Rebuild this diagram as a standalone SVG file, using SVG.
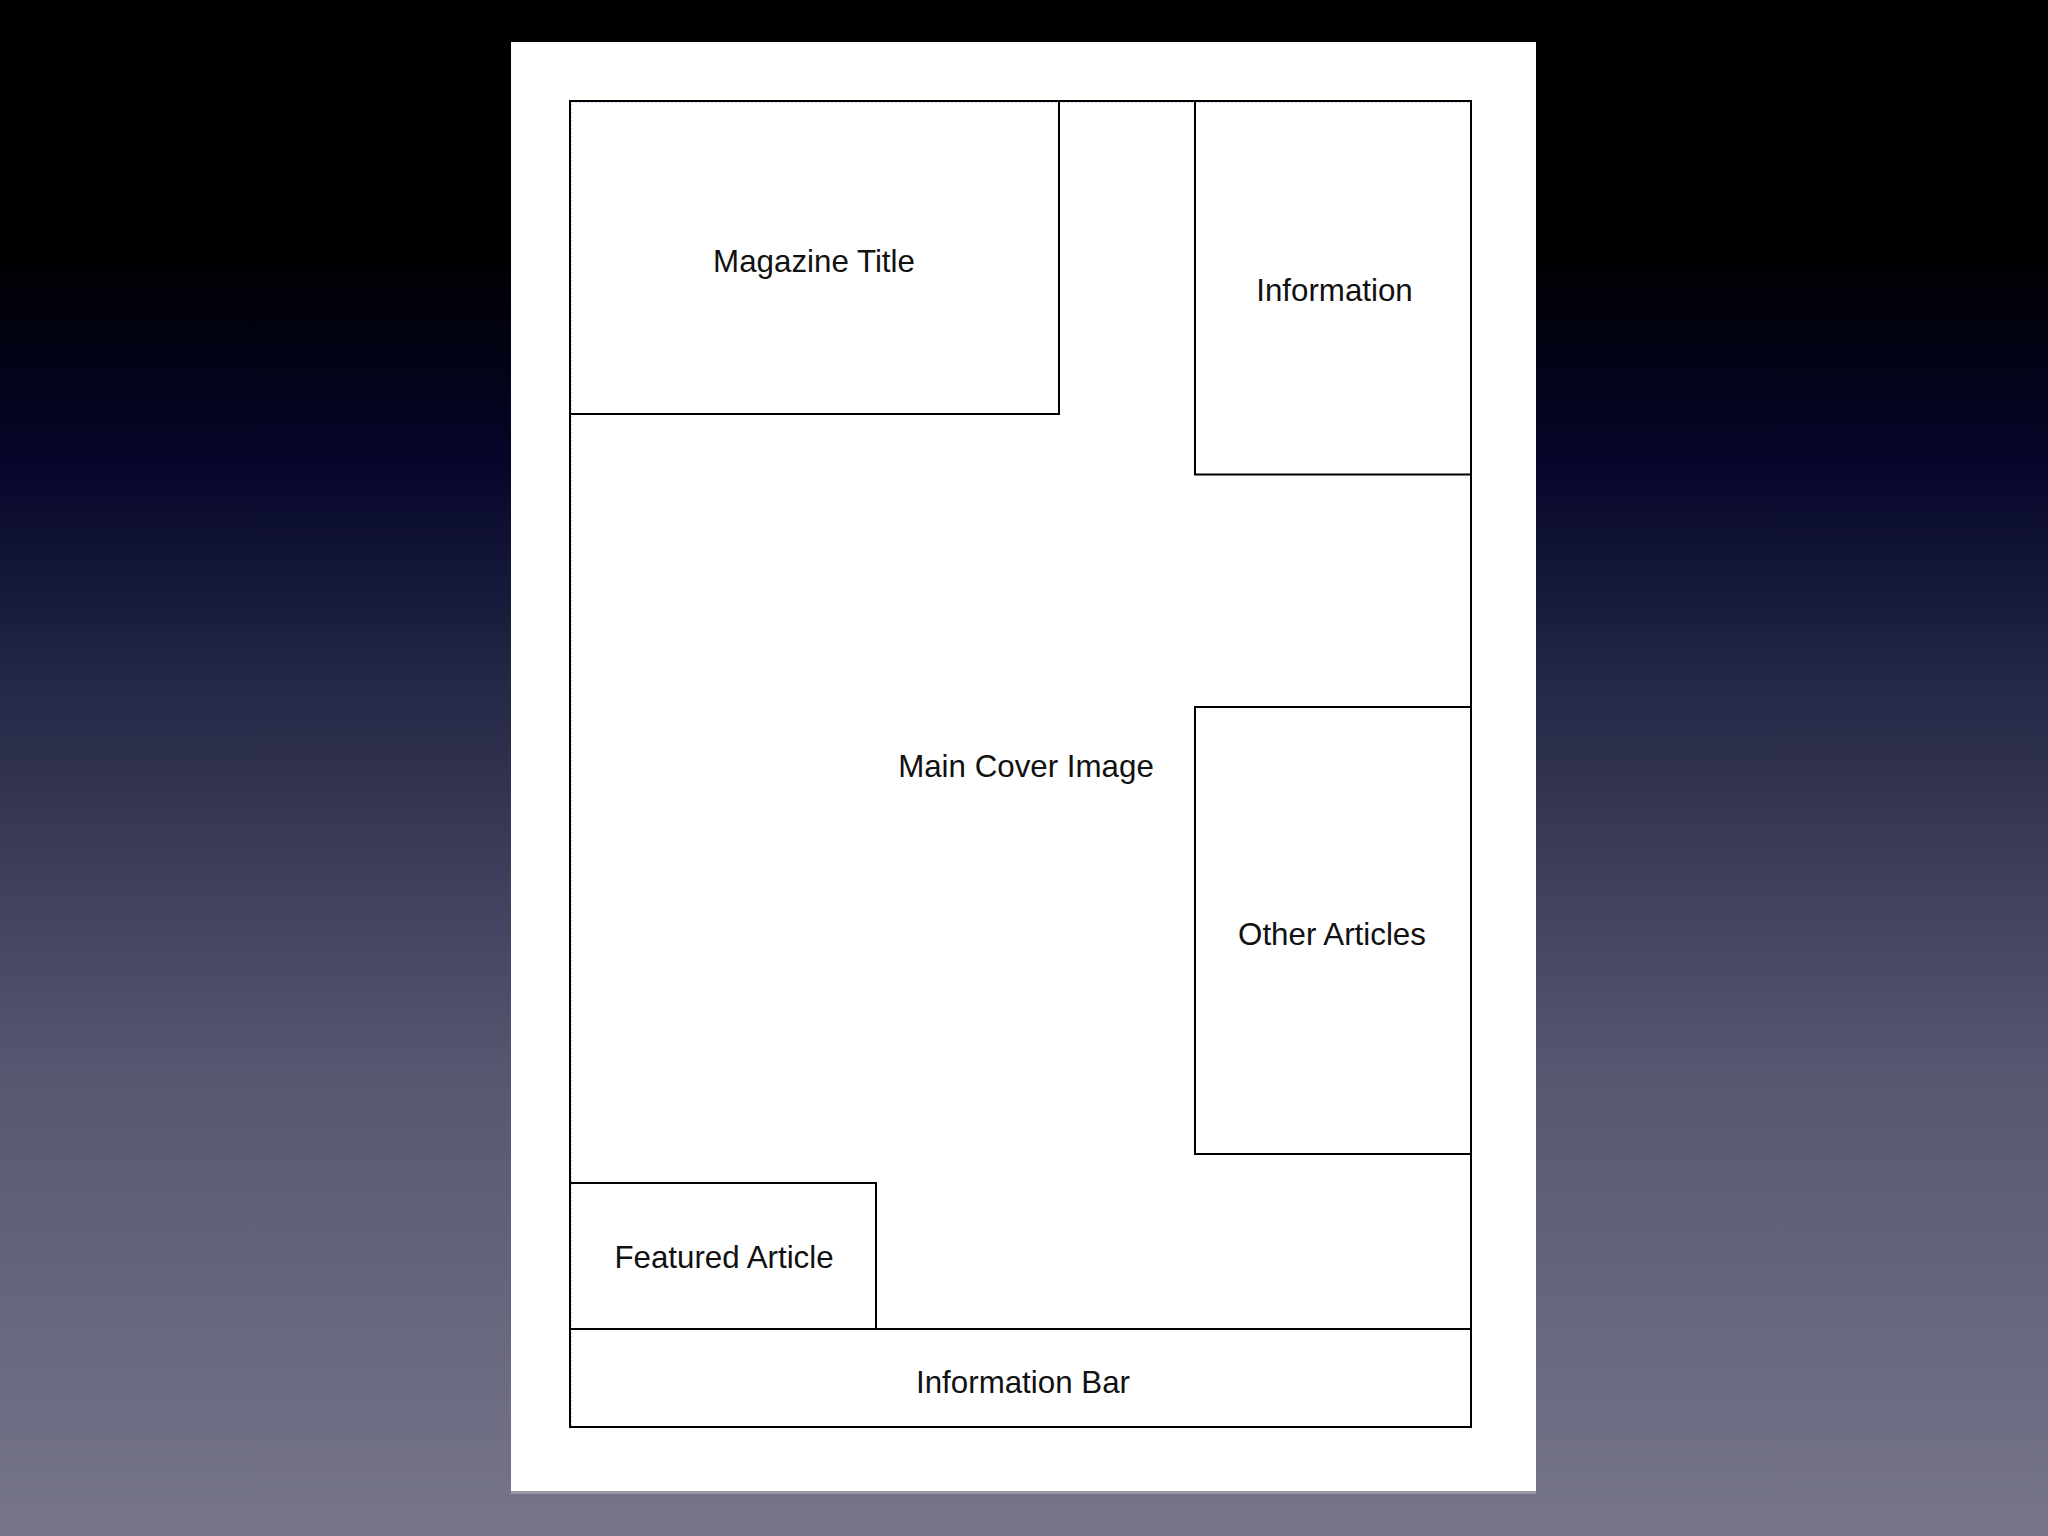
<svg xmlns="http://www.w3.org/2000/svg" width="2048" height="1536" viewBox="0 0 2048 1536">
  <defs>
    <linearGradient id="bg" x1="0" y1="0" x2="0" y2="1">
      <stop offset="0" stop-color="#000000"/>
      <stop offset="0.16" stop-color="#000000"/>
      <stop offset="0.3" stop-color="#05062a"/>
      <stop offset="0.45" stop-color="#252846"/>
      <stop offset="0.7" stop-color="#575772"/>
      <stop offset="1" stop-color="#767589"/>
    </linearGradient>
  </defs>
  <style>
    .box { fill: none; stroke: #000000; stroke-width: 2; }
    .lbl { font-family: "Liberation Sans", Arial, sans-serif; font-size: 31.3px; fill: #111111; text-anchor: middle; }
  </style>
  <rect x="0" y="0" width="2048" height="1536" fill="url(#bg)"/>
  <rect x="511" y="44" width="1025" height="1450" fill="#a8a8b4" opacity="0.7"/>
  <rect x="511" y="42" width="1025" height="1449" fill="#ffffff"/>
  <g id="page">
    <rect x="571" y="102" width="900.5" height="1325.5" fill="none" stroke="#8fb4f0" stroke-width="1" stroke-dasharray="2 2"/>
    <rect class="box" x="570" y="101" width="901" height="1326"/>
  </g>
  <g id="magazine-title">
    <rect class="box" x="570" y="101" width="489" height="313"/>
    <text class="lbl" x="814" y="271.5">Magazine Title</text>
  </g>
  <g id="information">
    <rect class="box" x="1195" y="101" width="276" height="373.5"/>
    <text class="lbl" x="1334.5" y="300.5">Information</text>
  </g>
  <g id="main-cover-image">
    <text class="lbl" x="1026" y="776.5">Main Cover Image</text>
  </g>
  <g id="other-articles">
    <rect class="box" x="1195" y="707" width="276" height="447"/>
    <text class="lbl" x="1332" y="945">Other Articles</text>
  </g>
  <g id="featured-article">
    <rect class="box" x="570" y="1183" width="306" height="146"/>
    <text class="lbl" x="724" y="1267.5">Featured Article</text>
  </g>
  <g id="information-bar">
    <rect class="box" x="570" y="1329" width="901" height="98"/>
    <text class="lbl" x="1023" y="1392.5">Information Bar</text>
  </g>
  <g id="connectors"/>
</svg>
